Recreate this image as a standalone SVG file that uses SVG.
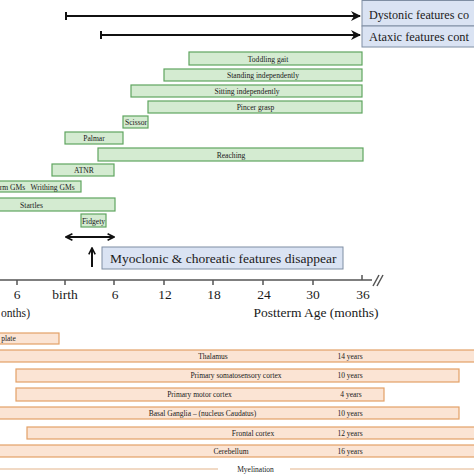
<svg xmlns="http://www.w3.org/2000/svg" width="474" height="474" viewBox="0 0 474 474">
<style>
text{font-family:"Liberation Serif","Times New Roman",serif;fill:#1a1a1a}
.g rect{fill:#d4ebd1;stroke:#5fa55f;stroke-width:1.2}
.g text{font-size:7.6px;text-anchor:middle}
.o rect{fill:#fbe4d4;stroke:#e3a167;stroke-width:1.2}
.o text{font-size:7.5px;text-anchor:middle}
.b rect{fill:#dae3f3;stroke:#7f8ea3;stroke-width:1}
.b text{font-size:13.2px}
.ax{stroke:#555;stroke-width:1.5;fill:none}
.tl{font-size:13.5px;text-anchor:middle}
.arr{stroke:#111;stroke-width:2;fill:none}
</style>
<defs>
<marker id="ah" viewBox="0 0 10 10" refX="9" refY="5" markerWidth="5" markerHeight="5" orient="auto" markerUnits="strokeWidth">
<path d="M0,0 L10,5 L0,10 L3,5 z" fill="#111"/>
</marker>
<marker id="ch" viewBox="0 0 10 10" refX="9" refY="5" markerWidth="4" markerHeight="4" orient="auto-start-reverse" markerUnits="strokeWidth">
<path d="M1,1 L9,5 L1,9" fill="none" stroke="#111" stroke-width="2"/>
</marker>
</defs>

<g id="connectors">
<line class="arr" x1="66" y1="16" x2="360" y2="16" marker-end="url(#ah)"/>
<line class="arr" x1="66" y1="12" x2="66" y2="20"/>
<line class="arr" x1="101" y1="35" x2="360" y2="35" marker-end="url(#ah)"/>
<line class="arr" x1="101" y1="31" x2="101" y2="39"/>
<line class="arr" x1="66" y1="237" x2="114" y2="237" marker-start="url(#ch)" marker-end="url(#ch)"/>
<line class="arr" x1="92" y1="267" x2="92" y2="248" marker-end="url(#ch)"/>
</g>

<g id="dystonic" class="b"><rect x="362" y="0.5" width="120" height="25.5"/><text x="369" y="19" textLength="100" lengthAdjust="spacingAndGlyphs">Dystonic features co</text></g>
<g id="ataxic" class="b"><rect x="362" y="26" width="120" height="21"/><text x="369" y="41" textLength="100" lengthAdjust="spacingAndGlyphs">Ataxic features cont</text></g>

<g id="toddling" class="g"><rect x="189" y="52" width="173" height="13"/><text x="268" y="61.5">Toddling gait</text></g>
<g id="standing" class="g"><rect x="164" y="69" width="198" height="12"/><text x="263" y="78">Standing independently</text></g>
<g id="sitting" class="g"><rect x="131" y="85" width="231" height="12"/><text x="247" y="94">Sitting independently</text></g>
<g id="pincer" class="g"><rect x="148" y="101" width="214" height="12"/><text x="255.5" y="110">Pincer grasp</text></g>
<g id="scissor" class="g"><rect x="123" y="116" width="25" height="12"/><text x="136" y="125">Scissor</text></g>
<g id="palmar" class="g"><rect x="65" y="132" width="58" height="12"/><text x="94" y="141">Palmar</text></g>
<g id="reaching" class="g"><rect x="98" y="148" width="265" height="13"/><text x="231" y="157.5">Reaching</text></g>
<g id="atnr" class="g"><rect x="52" y="164" width="62" height="12"/><text x="84" y="173">ATNR</text></g>
<g id="gms" class="g"><rect x="-5" y="181" width="86" height="11"/><text x="12.5" y="189.5">rm GMs</text><text x="52.5" y="189.5">Writhing GMs</text></g>
<g id="startles" class="g"><rect x="-5" y="198" width="120" height="13"/><text x="31.5" y="207.5">Startles</text></g>
<g id="fidgety" class="g"><rect x="81" y="214" width="25" height="13"/><text x="93.5" y="223.5">Fidgety</text></g>

<g id="myoclonic" class="b"><rect x="102" y="247" width="241" height="22"/><text x="110" y="262.5" style="font-size:13.5px">Myoclonic &amp; choreatic features disappear</text></g>

<g id="axis">
<line class="ax" x1="0" y1="280" x2="372" y2="280"/>
<path class="ax" d="M17,280v5M65,280v5M114,280v5M164,280v5M213,280v5M263,280v5M313,280v5M362,280v-5M373,286L379,275M377,286L383,275"/>
<text class="tl" x="17" y="299">6</text>
<text class="tl" x="65" y="299">birth</text>
<text class="tl" x="115" y="299">6</text>
<text class="tl" x="165" y="299">12</text>
<text class="tl" x="214" y="299">18</text>
<text class="tl" x="264" y="299">24</text>
<text class="tl" x="313" y="299">30</text>
<text class="tl" x="363" y="299">36</text>
<text x="1" y="317" style="font-size:13.5px" textLength="29" lengthAdjust="spacingAndGlyphs">onths)</text>
<text x="316" y="317" class="tl">Postterm Age (months)</text>
</g>

<g id="subplate" class="o"><rect x="-5" y="333" width="64" height="11"/><text x="8.5" y="341">plate</text></g>
<g id="thalamus" class="o"><rect x="-5" y="350" width="485" height="12"/><text x="213" y="358.5">Thalamus</text><text x="350" y="358.5">14 years</text></g>
<g id="somatosensory" class="o"><rect x="16" y="369" width="443" height="13"/><text x="236" y="378">Primary somatosensory cortex</text><text x="350" y="378">10 years</text></g>
<g id="motor" class="o"><rect x="16" y="388" width="368" height="13"/><text x="199.5" y="397">Primary motor cortex</text><text x="351" y="397">4 years</text></g>
<g id="basal" class="o"><rect x="-5" y="407" width="464" height="12"/><text x="202.5" y="415.5">Basal Ganglia – (nucleus Caudatus)</text><text x="350" y="415.5">10 years</text></g>
<g id="frontal" class="o"><rect x="27" y="427" width="455" height="12"/><text x="253" y="435.5">Frontal cortex</text><text x="350" y="435.5">12 years</text></g>
<g id="cerebellum" class="o"><rect x="-5" y="445" width="485" height="12"/><text x="231" y="453.5">Cerebellum</text><text x="350" y="453.5">16 years</text></g>
<g id="myelination" class="o">
<line x1="0" y1="469" x2="218" y2="469" stroke="#e3b48a" stroke-width="1.2"/>
<line x1="290" y1="469" x2="474" y2="469" stroke="#e3b48a" stroke-width="1.2"/>
<text x="255.5" y="472">Myelination</text>
</g>
</svg>
